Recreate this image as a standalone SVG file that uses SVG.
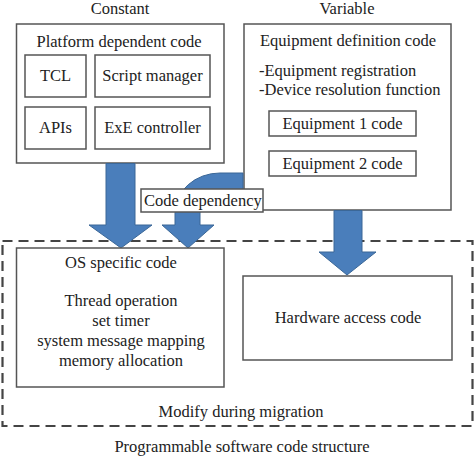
<svg xmlns="http://www.w3.org/2000/svg" width="474" height="459" viewBox="0 0 474 459">
<style>
.box{fill:#fff;stroke:#555;stroke-width:1.5}
text{font-family:'Liberation Serif','Times New Roman','DejaVu Serif',serif;font-size:16.5px;fill:#222}
.c{text-anchor:middle}
.arr{fill:#4a7ebb;stroke:#3b6797;stroke-width:1}
.dash{fill:none;stroke:#444;stroke-width:2.2;stroke-dasharray:10 6}
</style>
<rect width="474" height="459" fill="#fff"/>
<g id="migration-area">
<rect class="dash" x="2.5" y="241" width="470" height="185"/>
<text class="c" x="241" y="417">Modify during migration</text>
</g>
<g id="constant">
<text class="c" x="120" y="14">Constant</text>
<rect class="box" x="16.5" y="24" width="207.5" height="139"/>
<text class="c" x="119" y="47">Platform dependent code</text>
</g>
<g id="tcl"><rect class="box" x="25" y="55" width="61" height="42"/><text class="c" x="55.5" y="81">TCL</text></g>
<g id="script-manager"><rect class="box" x="95" y="55" width="115" height="42"/><text class="c" x="152.5" y="81">Script manager</text></g>
<g id="apis"><rect class="box" x="25" y="107" width="61" height="42"/><text class="c" x="55.5" y="133">APIs</text></g>
<g id="exe-controller"><rect class="box" x="95" y="107" width="115" height="42"/><text class="c" x="152.5" y="133">ExE controller</text></g>
<g id="variable">
<text class="c" x="347" y="14">Variable</text>
<rect class="box" x="244" y="24" width="207" height="186"/>
<text class="c" x="348" y="46">Equipment definition code</text>
<text x="259" y="76">-Equipment registration</text>
<text x="259" y="95">-Device resolution function</text>
</g>
<g id="equipment1"><rect class="box" x="269" y="111" width="147" height="25"/><text class="c" x="342.5" y="129">Equipment 1 code</text></g>
<g id="equipment2"><rect class="box" x="269" y="151" width="147" height="25"/><text class="c" x="342.5" y="169">Equipment 2 code</text></g>
<g id="connectors">
<path class="arr" d="M106,163.5 L135,163.5 L135,225 L152,225 L121,248 L89,225 L106,225 Z"/>
<path class="arr" d="M243,173 L220,173 A45,40 0 0 0 175,213 L175,225 L162,225 L188,248 L214,225 L200,225 L200,213 A20,15 0 0 1 220,198 L243,198 Z"/>
<path class="arr" d="M334,210.5 L362,210.5 L362,252 L376,252 L347,275 L319,252 L334,252 Z"/>
</g>
<g id="code-dependency">
<rect class="box" x="141" y="189" width="122" height="23"/>
<text x="144" y="206">Code dependency</text>
</g>
<g id="os-specific">
<rect class="box" x="16.5" y="248" width="207.5" height="139"/>
<text class="c" x="121" y="268">OS specific code</text>
<text class="c" x="121" y="306">Thread operation</text>
<text class="c" x="121" y="326">set timer</text>
<text class="c" x="121" y="346">system message mapping</text>
<text class="c" x="121" y="366">memory allocation</text>
</g>
<g id="hardware-access">
<rect class="box" x="243" y="276" width="209" height="84"/>
<text class="c" x="348" y="323">Hardware access code</text>
</g>
<text class="c" x="242" y="452">Programmable software code structure</text>
</svg>
